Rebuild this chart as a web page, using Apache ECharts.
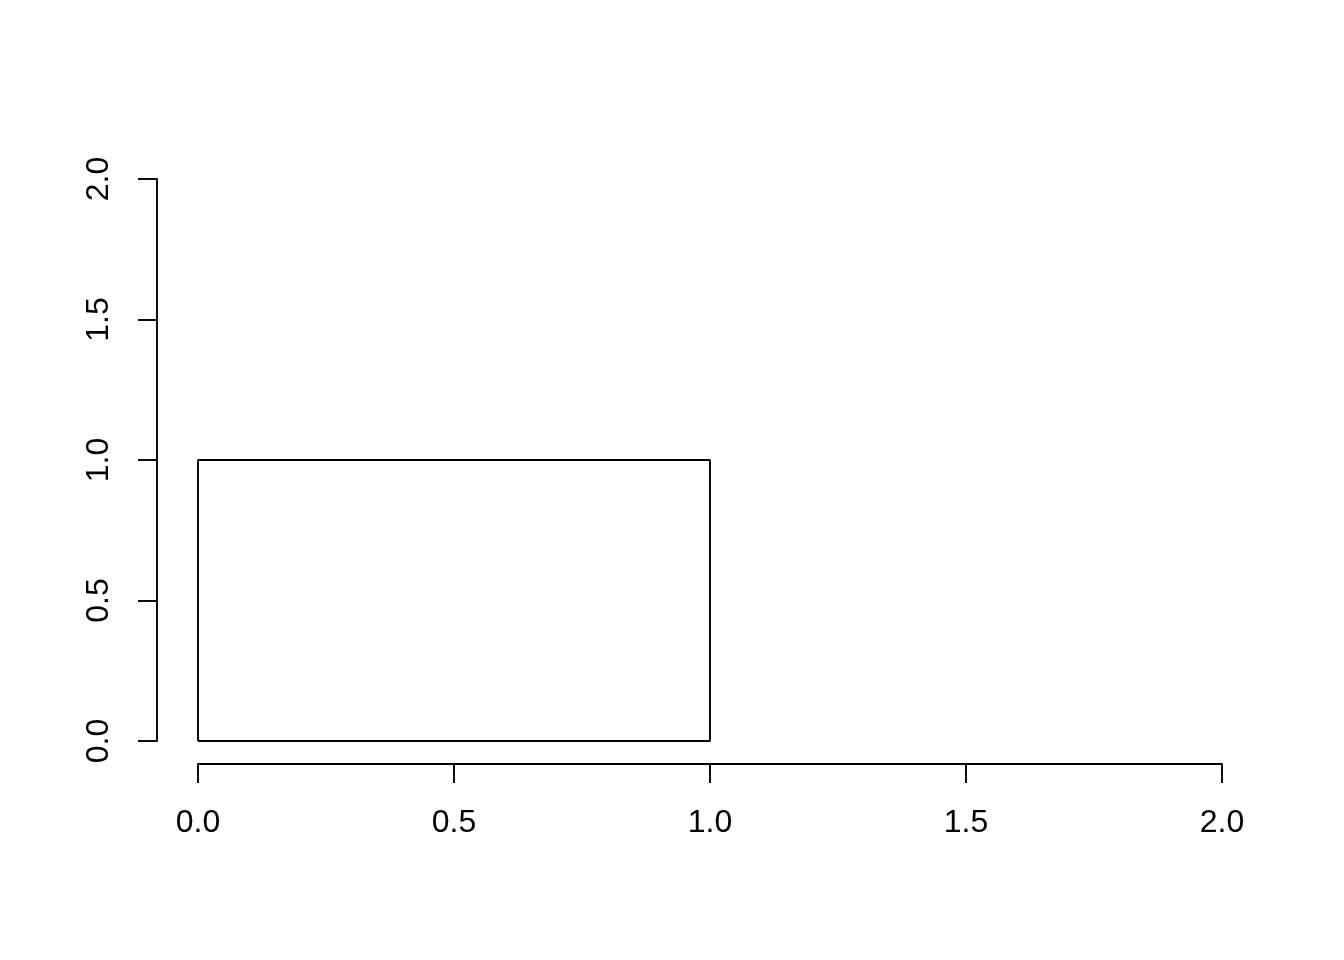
<!DOCTYPE html>
<html>
<head>
<meta charset="utf-8">
<script src="https://cdn.jsdelivr.net/npm/echarts@6/dist/echarts.min.js"></script>
<style>html,body{margin:0;padding:0;background:#fff}#c{width:1344px;height:960px}</style>
</head>
<body>
<div id="c"></div>
<script>
var xTicks = [0, 0.5, 1, 1.5, 2];
var yTicks = [0, 0.5, 1, 1.5, 2];
var rectX = [0, 1, 1, 0, 0];
var rectY = [0, 0, 1, 1, 0];

var chart = echarts.init(document.getElementById('c'));
var font = 'Liberation Sans, Arial, sans-serif';
chart.setOption({
  backgroundColor: '#ffffff',
  animation: false,
  grid: { left: 198, right: 122, top: 179, bottom: 219, containLabel: false },
  xAxis: {
    type: 'value', min: xTicks[0], max: xTicks[xTicks.length - 1], interval: 0.5,
    position: 'bottom', offset: 23,
    axisLine: { show: true, onZero: false, lineStyle: { color: '#000', width: 1.9 } },
    axisTick: { show: true, length: 19, lineStyle: { color: '#000', width: 1.9 } },
    splitLine: { show: false },
    axisLabel: { color: '#000', fontSize: 32, fontFamily: font, margin: 43,
      formatter: function (v) { return v.toFixed(1); } }
  },
  yAxis: {
    type: 'value', min: yTicks[0], max: yTicks[yTicks.length - 1], interval: 0.5,
    position: 'left', offset: 41,
    axisLine: { show: true, onZero: false, lineStyle: { color: '#000', width: 1.9 } },
    axisTick: { show: true, length: 19, lineStyle: { color: '#000', width: 1.9 } },
    splitLine: { show: false },
    axisLabel: { color: '#000', fontSize: 32, fontFamily: font, margin: 42, rotate: 90,
      formatter: function (v) { return v.toFixed(1); } }
  },
  series: [{
    type: 'line',
    data: rectX.map(function (x, i) { return [x, rectY[i]]; }),
    showSymbol: false,
    symbol: 'none',
    clip: false,
    lineStyle: { color: '#000', width: 1.9 }
  }]
});
</script>
</body>
</html>
